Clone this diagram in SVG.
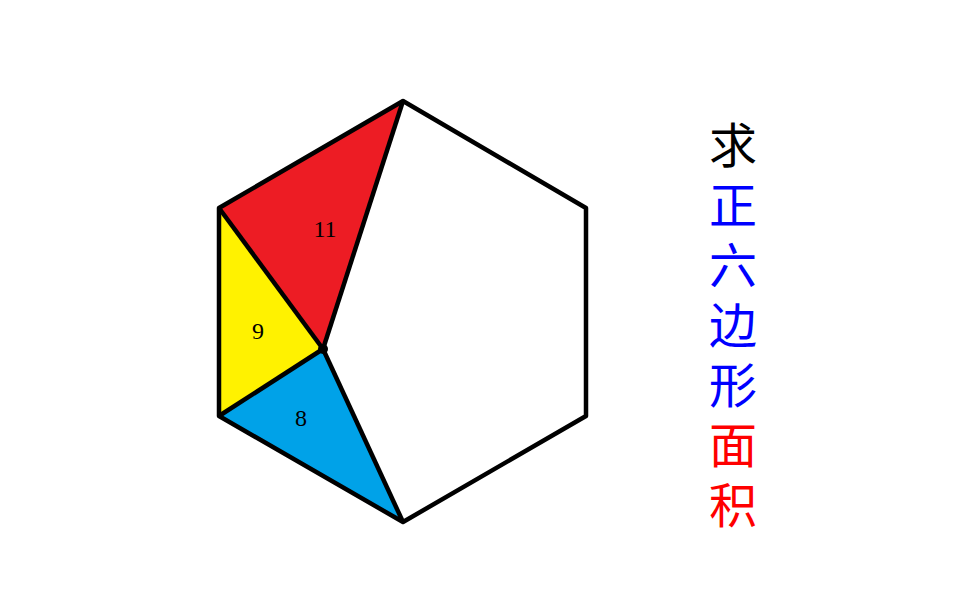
<svg xmlns="http://www.w3.org/2000/svg" width="972" height="607" viewBox="0 0 972 607">
<style>
.edge{stroke:#000;stroke-width:4.5;stroke-linejoin:round;fill:none}
.num{font-family:"Liberation Serif",serif;font-size:24px;fill:#000;text-anchor:middle}
.cjk{font-family:"Noto Sans CJK SC",sans-serif;font-size:48px;text-anchor:middle}
</style>
<rect width="972" height="607" fill="#fff"/>
<g id="red-triangle"><polygon points="403,101 219,208 323,349" fill="#ED1C24"/><text class="num" x="325" y="237">11</text></g>
<g id="yellow-triangle"><polygon points="219,208 219,416 323,349" fill="#FFF200"/><text class="num" x="258" y="339">9</text></g>
<g id="blue-triangle"><polygon points="219,416 403,522 323,349" fill="#00A2E8"/><text class="num" x="301" y="426">8</text></g>
<g id="connectors">
<polygon class="edge" points="403,101 586,208 586,416 403,522 219,416 219,208"/>
<line class="edge" x1="323" y1="349" x2="403" y2="101"/>
<line class="edge" x1="323" y1="349" x2="219" y2="208"/>
<line class="edge" x1="323" y1="349" x2="219" y2="416"/>
<line class="edge" x1="323" y1="349" x2="403" y2="522"/>
<circle cx="323" cy="349" r="5" fill="#000"/>
</g>
<g id="title">
<text class="cjk" x="733" y="163" fill="#000">求</text>
<text class="cjk" x="733" y="223" fill="#0000FF">正</text>
<text class="cjk" x="733" y="283" fill="#0000FF">六</text>
<text class="cjk" x="733" y="343" fill="#0000FF">边</text>
<text class="cjk" x="733" y="403" fill="#0000FF">形</text>
<text class="cjk" x="733" y="463" fill="#FF0000">面</text>
<text class="cjk" x="733" y="523" fill="#FF0000">积</text>
</g>
</svg>
